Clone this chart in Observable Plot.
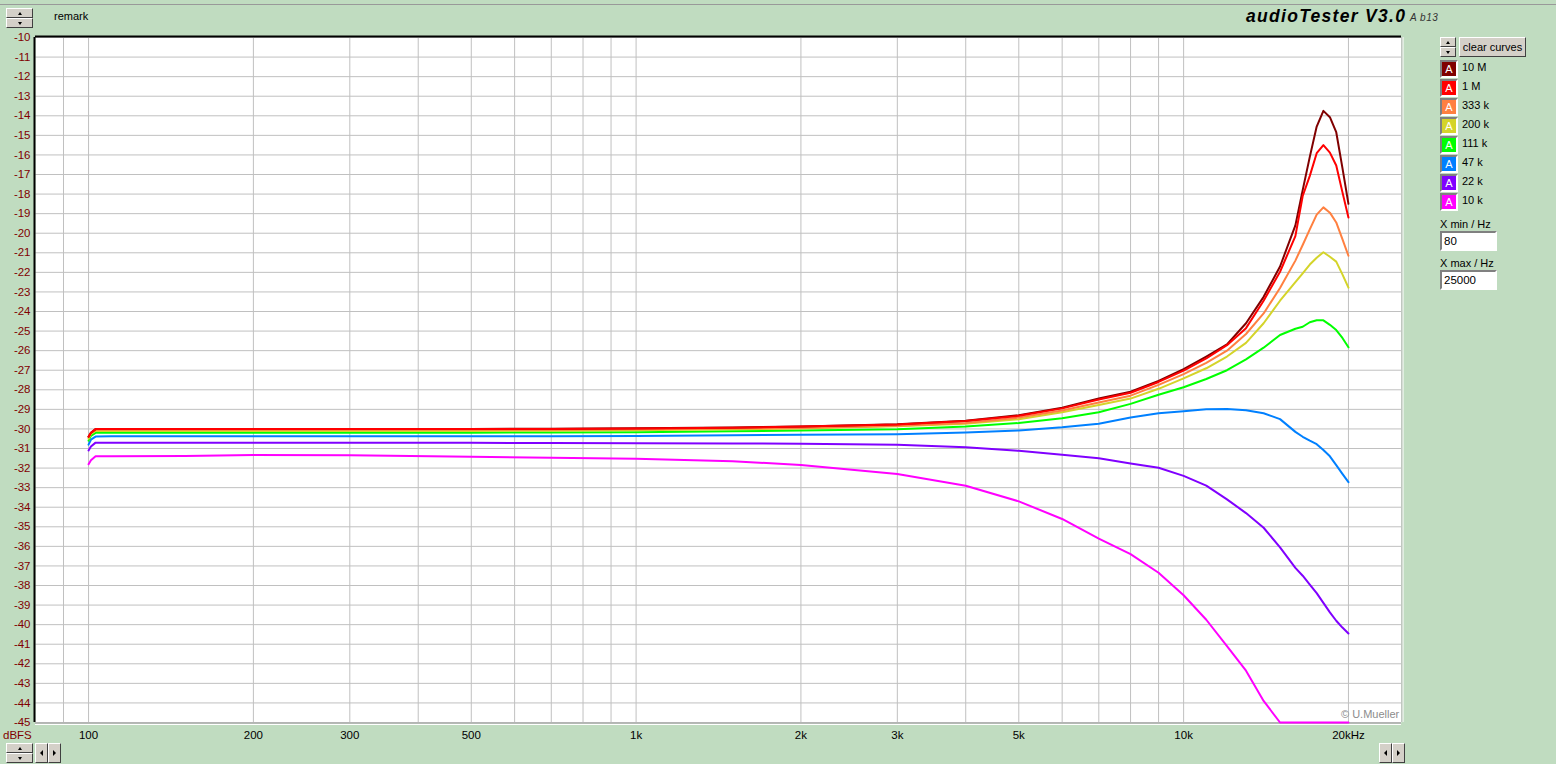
<!DOCTYPE html>
<html><head><meta charset="utf-8">
<script src="https://cdn.jsdelivr.net/npm/d3@7"></script>
<script src="https://cdn.jsdelivr.net/npm/@observablehq/plot@0.6"></script>
<style>
body{margin:0;background:#c0dcc0;overflow:hidden;font-family:"Liberation Sans",Arial,sans-serif;}
#wrap{position:relative;width:1556px;height:764px;}
#wrap svg{position:absolute;left:0;top:0;}
.btn{position:absolute;box-sizing:border-box;background:#d4d0c8;border:1px solid;border-color:#fff #404040 #404040 #fff;display:flex;align-items:center;justify-content:center;}
.tu{width:0;height:0;border-left:2.5px solid transparent;border-right:2.5px solid transparent;border-bottom:3px solid #000;}
.td{width:0;height:0;border-left:2.5px solid transparent;border-right:2.5px solid transparent;border-top:3px solid #000;}
.tl{width:0;height:0;border-top:3.5px solid transparent;border-bottom:3.5px solid transparent;border-right:3.5px solid #000;}
.tr{width:0;height:0;border-top:3.5px solid transparent;border-bottom:3.5px solid transparent;border-left:3.5px solid #000;}
.txt{position:absolute;white-space:nowrap;line-height:1;font-size:11px;color:#000;}
.sw{position:absolute;left:1440px;width:18px;height:18px;box-sizing:border-box;border:2px solid;border-color:#808080 #fff #fff #808080;color:#fff;font-size:11px;display:flex;align-items:center;justify-content:center;}
.inp{position:absolute;left:1440px;width:57px;height:20px;box-sizing:border-box;border:2px solid;border-color:#808080 #fff #fff #808080;background:#fff;font-size:11.5px;padding-left:2px;line-height:16px;}
</style>
</head><body>
<div id="wrap"></div>
<script>
// ---------- data ----------
const freqs = [100, 101, 103, 110, 150, 200, 300, 500, 700, 1000, 1500, 2000, 3000, 4000, 5000, 6000, 7000, 8000, 9000, 10000, 11000, 12000, 13000, 14000, 15000, 16000, 16500, 17000, 17500, 18000, 18500, 19000, 19500, 20000];
const seriesNames = ["10 M", "1 M", "333 k", "200 k", "111 k", "47 k", "22 k", "10 k"];
const seriesColors = ["#800000", "#ff0000", "#ff8040", "#d4d42a", "#00ff00", "#0080ff", "#8000ff", "#ff00ff"];
const drawOrder = ["10 k", "22 k", "47 k", "111 k", "200 k", "333 k", "10 M", "1 M"];

const db10M = [-30.4, -30.2, -30.01, -30.0, -30.0, -30.0, -30.0, -30.0, -29.99, -29.97, -29.93, -29.87, -29.76, -29.58, -29.3, -28.92, -28.45, -28.1, -27.55, -26.95, -26.3, -25.68, -24.6, -23.25, -21.7, -19.6, -17.8, -16.1, -14.55, -13.75, -14.07, -14.84, -16.66, -18.5];
const db1M = [-30.4, -30.2, -30.01, -30.0, -30.0, -30.0, -30.0, -30.0, -30.0, -29.98, -29.94, -29.88, -29.78, -29.6, -29.33, -28.95, -28.5, -28.15, -27.6, -27.02, -26.4, -25.72, -24.85, -23.45, -21.97, -20.15, -18.1, -17.07, -15.91, -15.5, -15.88, -16.54, -17.9, -19.2];
const db333k = [-30.4, -30.22, -30.04, -30.04, -30.04, -30.04, -30.04, -30.04, -30.04, -30.02, -29.98, -29.95, -29.84, -29.7, -29.42, -29.06, -28.65, -28.3, -27.75, -27.2, -26.62, -26.0, -25.15, -24.1, -22.8, -21.4, -20.6, -19.8, -19.05, -18.68, -18.95, -19.45, -20.3, -21.15];
const db200k = [-30.5, -30.25, -30.1, -30.1, -30.1, -30.1, -30.1, -30.1, -30.09, -30.07, -30.02, -29.98, -29.86, -29.74, -29.5, -29.15, -28.78, -28.45, -27.95, -27.42, -26.9, -26.3, -25.6, -24.6, -23.45, -22.5, -22.05, -21.6, -21.25, -20.97, -21.2, -21.45, -22.1, -22.78];
const db111k = [-30.6, -30.35, -30.2, -30.2, -30.2, -30.2, -30.2, -30.19, -30.18, -30.17, -30.12, -30.08, -30.02, -29.88, -29.7, -29.45, -29.15, -28.72, -28.25, -27.87, -27.45, -27.0, -26.45, -25.85, -25.2, -24.88, -24.78, -24.55, -24.45, -24.45, -24.68, -24.95, -25.35, -25.83];
const db47k = [-30.8, -30.55, -30.39, -30.38, -30.38, -30.38, -30.38, -30.38, -30.37, -30.36, -30.32, -30.3, -30.27, -30.18, -30.08, -29.92, -29.73, -29.42, -29.2, -29.1, -29.0, -28.98, -29.05, -29.2, -29.5, -30.15, -30.4, -30.6, -30.78, -31.08, -31.4, -31.85, -32.3, -32.72];
const db22k = [-31.1, -30.9, -30.7, -30.7, -30.7, -30.7, -30.7, -30.71, -30.72, -30.73, -30.74, -30.76, -30.81, -30.93, -31.12, -31.32, -31.5, -31.77, -31.98, -32.4, -32.9, -33.6, -34.3, -35.05, -36.05, -37.1, -37.5, -37.95, -38.39, -38.89, -39.37, -39.8, -40.15, -40.45];
const db10k = [-31.8, -31.6, -31.4, -31.4, -31.38, -31.33, -31.35, -31.42, -31.47, -31.52, -31.65, -31.84, -32.3, -32.9, -33.7, -34.6, -35.6, -36.4, -37.35, -38.5, -39.75, -41.1, -42.35, -43.9, -45, -45, -45, -45, -45, -45, -45, -45, -45, -45];
const seriesValues = [db10M, db1M, db333k, db200k, db111k, db47k, db22k, db10k];

const xDomain = [80, 25000];
const yDomain = [-45, -10];
const xTickValues = [100, 200, 300, 500, 1000, 2000, 3000, 5000, 10000, 20000];
const xTickLabels = ["100", "200", "300", "500", "1k", "2k", "3k", "5k", "10k", "20kHz"];
const xGrid = [90, 100, 200, 300, 400, 500, 600, 700, 800, 900, 1000, 2000, 3000, 4000, 5000, 6000, 7000, 8000, 9000, 10000, 20000];
const yTicks = [-45, -44, -43, -42, -41, -40, -39, -38, -37, -36, -35, -34, -33, -32, -31, -30, -29, -28, -27, -26, -25, -24, -23, -22, -21, -20, -19, -18, -17, -16, -15, -14, -13, -12, -11, -10];

// ---------- table ----------
const rows = drawOrder.flatMap(name => {
  const i = seriesNames.indexOf(name);
  return freqs.map((f, j) => ({series: name, f, db: seriesValues[i][j]}));
});
const labelOf = new Map(xTickValues.map((v, i) => [v, xTickLabels[i]]));

const chart = Plot.plot({
  width: 1556,
  height: 764,
  marginLeft: 35,
  marginRight: 155,
  marginTop: 37,
  marginBottom: 42,
  style: {background: "transparent", fontFamily: "'Liberation Sans', Arial, sans-serif", fontSize: "11.5px", overflow: "visible"},
  x: {type: "log", domain: xDomain, axis: null, label: null},
  y: {domain: yDomain, axis: null, label: null},
  color: {domain: seriesNames, range: seriesColors},
  marks: [
    Plot.frame({fill: "white", stroke: null}),
    Plot.ruleX(xGrid, {stroke: "#c0c0c0", strokeWidth: 1}),
    Plot.ruleY(yTicks, {stroke: "#c0c0c0", strokeWidth: 1}),
    Plot.ruleX([xDomain[1]], {stroke: "#a0a0a0", strokeWidth: 1, dx: 0.5}),
    Plot.ruleX([xDomain[1]], {stroke: "#ffffff", strokeWidth: 1, dx: 1.5}),
    Plot.ruleY([yDomain[0]], {stroke: "#b0b0b0", strokeWidth: 1.5, dy: 0.5}),
    Plot.ruleY([yDomain[0]], {stroke: "#ffffff", strokeWidth: 1, dy: 2}),
    Plot.ruleX([xDomain[0]], {stroke: "#000", strokeWidth: 2, dx: -1}),
    Plot.ruleY([yDomain[1]], {stroke: "#000", strokeWidth: 2, dy: -1}),
    Plot.line(rows, {x: "f", y: "db", z: "series", stroke: "series", strokeWidth: 2}),
    Plot.axisY(yTicks, {anchor: "left", label: null, tickSize: 0, tickPadding: 5, tickFormat: d => String(d), fill: "#800000", fontSize: 11.5}),
    Plot.axisX(xTickValues, {anchor: "bottom", label: null, tickSize: 0, tickPadding: 8, tickFormat: d => labelOf.get(d), fill: "#000", fontSize: 11.5})
  ]
});
const wrap = document.getElementById("wrap");
wrap.appendChild(chart);

// ---------- UI chrome ----------
function el(html) { wrap.insertAdjacentHTML("beforeend", html); }
el('<div style="position:absolute;left:0;top:4px;width:1556px;height:1px;background:#999"></div>');
// top-left spinner
el('<div class="btn" style="left:6px;top:8px;width:27px;height:10px"><div class="tu"></div></div>');
el('<div class="btn" style="left:6px;top:18px;width:27px;height:10px"><div class="td"></div></div>');
el('<div class="txt" style="left:54px;top:11px">remark</div>');
// title
el('<div class="txt" style="left:1246px;top:8px;font-size:17.5px;font-weight:bold;font-style:italic;letter-spacing:1.3px;color:#000">audioTester V3.0</div>');
el('<div class="txt" style="left:1410px;top:13px;font-size:10px;font-style:italic;color:#333;letter-spacing:0.5px">A b13</div>');
// right panel
el('<div class="btn" style="left:1440px;top:37px;width:16px;height:10px"><div class="tu"></div></div>');
el('<div class="btn" style="left:1440px;top:47px;width:16px;height:10px"><div class="td"></div></div>');
el('<div class="btn" style="left:1459px;top:37px;width:67px;height:20px;font-size:11px">clear curves</div>');
seriesNames.forEach((name, i) => {
  const top = 60 + 19 * i;
  el(`<div class="sw" style="top:${top}px;background:${seriesColors[i]}">A</div>`);
  el(`<div class="txt" style="left:1462px;top:${top + 2}px;font-size:11px">${name}</div>`);
});
el('<div class="txt" style="left:1440px;top:219px;font-size:11px">X min / Hz</div>');
el('<div class="inp" style="top:231px">80</div>');
el('<div class="txt" style="left:1440px;top:258px;font-size:11px">X max / Hz</div>');
el('<div class="inp" style="top:270px">25000</div>');
// copyright
el('<div class="txt" style="left:1341px;top:709px;font-size:11px;color:#8c8c8c">&copy; U.Mueller</div>');
// bottom
el('<div class="txt" style="left:3px;top:730px;font-size:11.5px;color:#800000">dBFS</div>');
el('<div class="btn" style="left:6px;top:743px;width:27px;height:10px"><div class="tu"></div></div>');
el('<div class="btn" style="left:6px;top:753px;width:27px;height:10px"><div class="td"></div></div>');
el('<div class="btn" style="left:35px;top:743px;width:13px;height:20px"><div class="tl"></div></div>');
el('<div class="btn" style="left:48px;top:743px;width:13px;height:20px"><div class="tr"></div></div>');
el('<div class="btn" style="left:1379px;top:743px;width:13px;height:20px"><div class="tl"></div></div>');
el('<div class="btn" style="left:1392px;top:743px;width:13px;height:20px"><div class="tr"></div></div>');
</script>
</body></html>
